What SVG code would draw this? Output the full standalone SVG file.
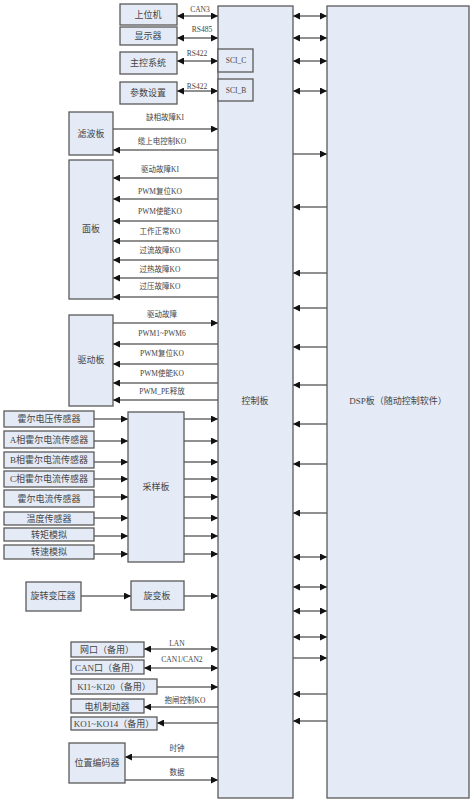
<svg xmlns="http://www.w3.org/2000/svg" width="474" height="803" viewBox="0 0 474 803">
<defs>
<marker id="ah" viewBox="0 0 10 10" refX="10" refY="5" markerWidth="9" markerHeight="7" markerUnits="userSpaceOnUse" orient="auto-start-reverse"><path d="M0,0 L10,5 L0,10 z" fill="#111"/></marker>
<style>
.box{fill:#e5ebf6;stroke:#5a5a5a;stroke-width:1.3}
.c{stroke:#222;stroke-width:1.1;fill:none}
.e{marker-end:url(#ah)}
.b{marker-start:url(#ah);marker-end:url(#ah)}
text{font-family:"Liberation Serif","Noto Sans CJK SC",serif;fill:#444;text-anchor:middle}
.t{font-size:9px}
.l{font-size:7.5px}
</style>
</defs>
<rect width="474" height="803" fill="#fff"/>
<g id="connectors">
<!-- control <-> DSP -->
<line class="c b" x1="293" y1="16" x2="327" y2="16"/>
<line class="c b" x1="293" y1="38" x2="327" y2="38"/>
<line class="c b" x1="293" y1="61" x2="327" y2="61"/>
<line class="c b" x1="293" y1="91" x2="327" y2="91"/>
<line class="c e" x1="293" y1="154" x2="327" y2="154"/>
<line class="c e" x1="327" y1="207" x2="293" y2="207"/>
<line class="c e" x1="327" y1="273" x2="293" y2="273"/>
<line class="c e" x1="327" y1="308" x2="293" y2="308"/>
<line class="c e" x1="327" y1="347" x2="293" y2="347"/>
<line class="c e" x1="327" y1="385" x2="293" y2="385"/>
<line class="c e" x1="327" y1="424" x2="293" y2="424"/>
<line class="c e" x1="327" y1="464" x2="293" y2="464"/>
<line class="c e" x1="327" y1="513" x2="293" y2="513"/>
<line class="c b" x1="293" y1="557" x2="327" y2="557"/>
<line class="c b" x1="293" y1="587" x2="327" y2="587"/>
<line class="c b" x1="293" y1="611" x2="327" y2="611"/>
<line class="c b" x1="293" y1="637" x2="327" y2="637"/>
<line class="c e" x1="293" y1="658" x2="327" y2="658"/>
<line class="c e" x1="327" y1="694" x2="293" y2="694"/>
<line class="c e" x1="327" y1="721" x2="293" y2="721"/>
<!-- top comms -->
<line class="c b" x1="177" y1="16" x2="218" y2="16"/>
<line class="c b" x1="177" y1="38" x2="218" y2="38"/>
<line class="c b" x1="177" y1="61" x2="218" y2="61"/>
<line class="c b" x1="177" y1="91" x2="218" y2="91"/>
<!-- filter board -->
<line class="c e" x1="113" y1="129" x2="218" y2="129"/>
<line class="c e" x1="218" y1="150" x2="113" y2="150"/>
<!-- panel -->
<line class="c e" x1="218" y1="178" x2="113" y2="178"/>
<line class="c e" x1="218" y1="199" x2="113" y2="199"/>
<line class="c e" x1="218" y1="221" x2="113" y2="221"/>
<line class="c e" x1="218" y1="241" x2="113" y2="241"/>
<line class="c e" x1="218" y1="260" x2="113" y2="260"/>
<line class="c e" x1="218" y1="278" x2="113" y2="278"/>
<line class="c e" x1="218" y1="297" x2="113" y2="297"/>
<!-- drive board -->
<line class="c e" x1="113" y1="323" x2="218" y2="323"/>
<line class="c e" x1="218" y1="344" x2="113" y2="344"/>
<line class="c e" x1="218" y1="364" x2="113" y2="364"/>
<line class="c e" x1="218" y1="383" x2="113" y2="383"/>
<line class="c e" x1="218" y1="400" x2="113" y2="400"/>
<!-- sensors -> sampling board -->
<line class="c e" x1="94" y1="419" x2="128" y2="419"/>
<line class="c e" x1="94" y1="441" x2="128" y2="441"/>
<line class="c e" x1="94" y1="462" x2="128" y2="462"/>
<line class="c e" x1="94" y1="479" x2="128" y2="479"/>
<line class="c e" x1="94" y1="497" x2="128" y2="497"/>
<line class="c e" x1="94" y1="518" x2="128" y2="518"/>
<line class="c e" x1="94" y1="536" x2="128" y2="536"/>
<line class="c e" x1="94" y1="554" x2="128" y2="554"/>
<!-- sampling board -> control -->
<line class="c e" x1="184" y1="419" x2="218" y2="419"/>
<line class="c e" x1="184" y1="441" x2="218" y2="441"/>
<line class="c e" x1="184" y1="462" x2="218" y2="462"/>
<line class="c e" x1="184" y1="479" x2="218" y2="479"/>
<line class="c e" x1="184" y1="497" x2="218" y2="497"/>
<line class="c e" x1="184" y1="518" x2="218" y2="518"/>
<line class="c e" x1="184" y1="536" x2="218" y2="536"/>
<line class="c e" x1="184" y1="554" x2="218" y2="554"/>
<!-- resolver -->
<line class="c e" x1="81" y1="596" x2="131" y2="596"/>
<line class="c e" x1="184" y1="596" x2="218" y2="596"/>
<!-- spare -->
<line class="c b" x1="144" y1="649" x2="218" y2="649"/>
<line class="c b" x1="144" y1="668" x2="218" y2="668"/>
<line class="c e" x1="157" y1="687" x2="218" y2="687"/>
<line class="c e" x1="218" y1="707" x2="144" y2="707"/>
<line class="c e" x1="218" y1="723" x2="157" y2="723"/>
<!-- encoder -->
<line class="c e" x1="218" y1="757" x2="125" y2="757"/>
<line class="c e" x1="125" y1="780" x2="218" y2="780"/>
</g>
<g id="labels">
<text class="l" x="200" y="12">CAN3</text>
<text class="l" x="202" y="32">RS485</text>
<text class="l" x="197" y="56">RS422</text>
<text class="l" x="197" y="89">RS422</text>
<text class="l" x="165" y="120">缺相故障KI</text>
<text class="l" x="162" y="144">缆上电控制KO</text>
<text class="l" x="160" y="172">驱动故障KI</text>
<text class="l" x="160" y="194">PWM复位KO</text>
<text class="l" x="160" y="214">PWM使能KO</text>
<text class="l" x="160" y="234">工作正常KO</text>
<text class="l" x="160" y="253">过流故障KO</text>
<text class="l" x="160" y="272">过热故障KO</text>
<text class="l" x="160" y="289">过压故障KO</text>
<text class="l" x="162" y="317">驱动故障</text>
<text class="l" x="162" y="336">PWM1~PWM6</text>
<text class="l" x="162" y="356">PWM复位KO</text>
<text class="l" x="162" y="376">PWM使能KO</text>
<text class="l" x="162" y="394">PWM_PE释放</text>
<text class="l" x="177" y="646">LAN</text>
<text class="l" x="182" y="662">CAN1/CAN2</text>
<text class="l" x="185" y="703">抱闸控制KO</text>
<text class="l" x="177" y="751">时钟</text>
<text class="l" x="177" y="775">数据</text>
</g>
<g id="ctrl"><rect class="box" x="218" y="6" width="75" height="792"/><text class="t" x="255" y="404">控制板</text></g>
<g id="dsp"><rect class="box" x="327" y="6" width="142" height="792"/><text class="t" x="398" y="404">DSP板（随动控制软件）</text></g>
<g id="sci_c"><rect class="box" x="218" y="49" width="35" height="23"/><text class="l" x="236" y="63">SCI_C</text></g>
<g id="sci_b"><rect class="box" x="218" y="79" width="35" height="22"/><text class="l" x="236" y="93">SCI_B</text></g>
<g id="host"><rect class="box" x="120" y="4" width="57" height="21"/><text class="t" x="148" y="18">上位机</text></g>
<g id="display"><rect class="box" x="120" y="27" width="57" height="18"/><text class="t" x="148" y="39">显示器</text></g>
<g id="master"><rect class="box" x="120" y="52" width="57" height="22"/><text class="t" x="148" y="66">主控系统</text></g>
<g id="param"><rect class="box" x="120" y="82" width="57" height="22"/><text class="t" x="148" y="96">参数设置</text></g>
<g id="filter"><rect class="box" x="69" y="112" width="44" height="43"/><text class="t" x="91" y="137">滤波板</text></g>
<g id="panel"><rect class="box" x="69" y="160" width="44" height="139"/><text class="t" x="91" y="232">面板</text></g>
<g id="drive"><rect class="box" x="69" y="315" width="44" height="91"/><text class="t" x="91" y="363">驱动板</text></g>
<g id="s1"><rect class="box" x="4" y="411" width="90" height="16"/><text class="t" x="49" y="422">霍尔电压传感器</text></g>
<g id="s2"><rect class="box" x="4" y="431" width="90" height="17"/><text class="t" x="49" y="443">A相霍尔电流传感器</text></g>
<g id="s3"><rect class="box" x="4" y="452" width="90" height="16"/><text class="t" x="49" y="463">B相霍尔电流传感器</text></g>
<g id="s4"><rect class="box" x="4" y="471" width="90" height="16"/><text class="t" x="49" y="482">C相霍尔电流传感器</text></g>
<g id="s5"><rect class="box" x="4" y="490" width="90" height="17"/><text class="t" x="49" y="502">霍尔电流传感器</text></g>
<g id="s6"><rect class="box" x="4" y="512" width="90" height="13"/><text class="t" x="49" y="522">温度传感器</text></g>
<g id="s7"><rect class="box" x="4" y="528" width="90" height="13"/><text class="t" x="49" y="538">转矩模拟</text></g>
<g id="s8"><rect class="box" x="4" y="545" width="90" height="14"/><text class="t" x="49" y="555">转速模拟</text></g>
<g id="sampling"><rect class="box" x="128" y="412" width="56" height="150"/><text class="t" x="156" y="490">采样板</text></g>
<g id="resolver"><rect class="box" x="26" y="582" width="55" height="29"/><text class="t" x="53" y="599">旋转变压器</text></g>
<g id="resolverboard"><rect class="box" x="131" y="581" width="53" height="29"/><text class="t" x="157" y="599">旋变板</text></g>
<g id="lan"><rect class="box" x="71" y="642" width="73" height="15"/><text class="t" x="107" y="653">网口（备用）</text></g>
<g id="can"><rect class="box" x="71" y="660" width="73" height="14"/><text class="t" x="107" y="671">CAN口（备用）</text></g>
<g id="ki"><rect class="box" x="71" y="679" width="86" height="15"/><text class="t" x="114" y="690">KI1~KI20（备用）</text></g>
<g id="brake"><rect class="box" x="71" y="699" width="73" height="14"/><text class="t" x="107" y="710">电机制动器</text></g>
<g id="ko"><rect class="box" x="71" y="717" width="86" height="13"/><text class="t" x="114" y="727">KO1~KO14（备用）</text></g>
<g id="encoder"><rect class="box" x="69" y="743" width="56" height="40"/><text class="t" x="97" y="766">位置编码器</text></g>
</svg>
